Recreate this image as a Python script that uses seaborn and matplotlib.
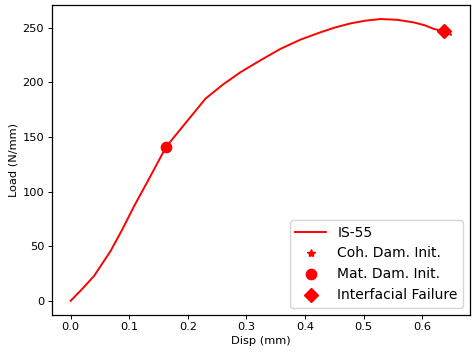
import numpy as np
import pandas as pd
import matplotlib
matplotlib.use("Agg")
import matplotlib.pyplot as plt
import seaborn as sns

# load-displacement curve
disp = [0.0, 0.02, 0.04, 0.068, 0.088, 0.108, 0.131, 0.153, 0.163, 0.230,
        0.260, 0.290, 0.325, 0.358, 0.392, 0.426, 0.452, 0.4775, 0.503,
        0.529, 0.557, 0.5855, 0.604, 0.62, 0.637, 0.649]
load = [0, 11, 22.8, 45.5, 65.2, 86.4, 109, 131, 141, 185,
        198, 209.3, 220.5, 230.6, 239, 245.7, 250.3, 253.9, 256.4,
        257.9, 257.2, 254.8, 252.2, 248.8, 246.6, 243.6]

# event points
coh_disp, coh_load = [], []
mat_disp, mat_load = [0.163], [141]
fail_disp, fail_load = [0.637], [246.8]

series_label = "IS-55"
event_labels = ["Coh. Dam. Init.", "Mat. Dam. Init.", "Interfacial Failure"]

curve = pd.DataFrame({"disp": disp, "load": load})

fig, ax = plt.subplots(figsize=(4.74, 3.53), dpi=100)
fig.subplots_adjust(left=0.109, right=0.9916, bottom=0.108, top=0.986)

sns.lineplot(data=curve, x="disp", y="load", color="red", linewidth=1.4,
             sort=False, estimator=None, label=series_label, ax=ax)
ax.plot(coh_disp, coh_load, "*", color="red", markersize=6, linestyle="none",
        label=event_labels[0])
ax.plot(mat_disp, mat_load, "o", color="red", markersize=7.4, linestyle="none",
        label=event_labels[1])
ax.plot(fail_disp, fail_load, "D", color="red", markersize=6.8, linestyle="none",
        label=event_labels[2])

ax.set_xlabel("Disp (mm)", fontsize=8.2, labelpad=2.5)
ax.set_ylabel("Load (N/mm)", fontsize=8.2, labelpad=2.5)
ax.tick_params(labelsize=8.2, length=2.9, width=0.7, pad=2.5)
for s in ax.spines.values():
    s.set_linewidth(0.9)

ax.legend(loc="lower right", fontsize=10, handlelength=2.2)

plt.savefig("out.png", dpi=100, facecolor="white")
